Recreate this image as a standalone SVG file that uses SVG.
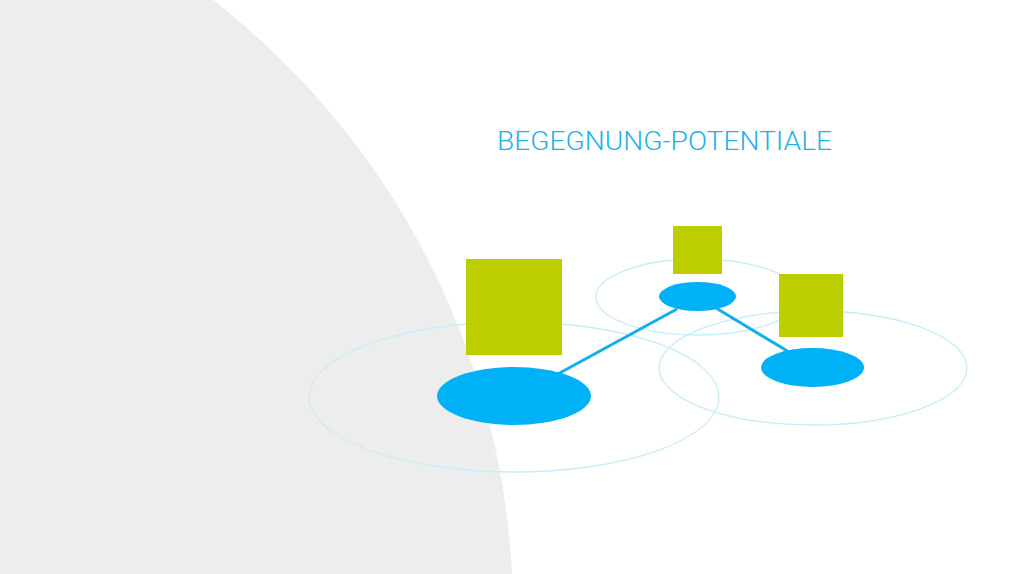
<svg xmlns="http://www.w3.org/2000/svg" width="1024" height="574" viewBox="0 0 1024 574">
  <style>
    .halo { fill: none; stroke: #c9ecf8; stroke-width: 1.3; }
    .node { fill: #00b1f6; }
    .box { fill: #bccd00; }
    .link { stroke: #14aeea; stroke-width: 3; fill: none; }
    .title { font-family: Roboto, "Liberation Sans", sans-serif; font-size: 25px; font-weight: 300; fill: #1fb0ea; }
  </style>
  <rect x="0" y="0" width="1024" height="574" fill="#ffffff"/>
  <path id="background-arc" d="M 0 0 L 213 0 A 776 776 0 0 1 512 574 L 0 574 Z" fill="#ededed"/>
  <text class="title" x="497" y="150" textLength="335" lengthAdjust="spacingAndGlyphs">BEGEGNUNG-POTENTIALE</text>
  <g id="halos">
    <ellipse class="halo" cx="514" cy="397" rx="205" ry="75"/>
    <ellipse class="halo" cx="698" cy="297" rx="102" ry="38"/>
    <ellipse class="halo" cx="813" cy="368" rx="154" ry="57"/>
  </g>
  <g id="connectors">
    <line class="link" x1="556" y1="375" x2="677" y2="309"/>
    <line class="link" x1="716" y1="308" x2="789" y2="352"/>
  </g>
  <g id="node-left">
    <rect class="box" x="466" y="259" width="96" height="96"/>
    <ellipse class="node" cx="514" cy="396" rx="77" ry="29"/>
  </g>
  <g id="node-top">
    <rect class="box" x="673" y="226" width="49" height="48"/>
    <ellipse class="node" cx="697.5" cy="296.5" rx="38.5" ry="14.5"/>
  </g>
  <g id="node-right">
    <rect class="box" x="779" y="274" width="64" height="63"/>
    <ellipse class="node" cx="812.5" cy="367.5" rx="51.5" ry="19.5"/>
  </g>
</svg>
